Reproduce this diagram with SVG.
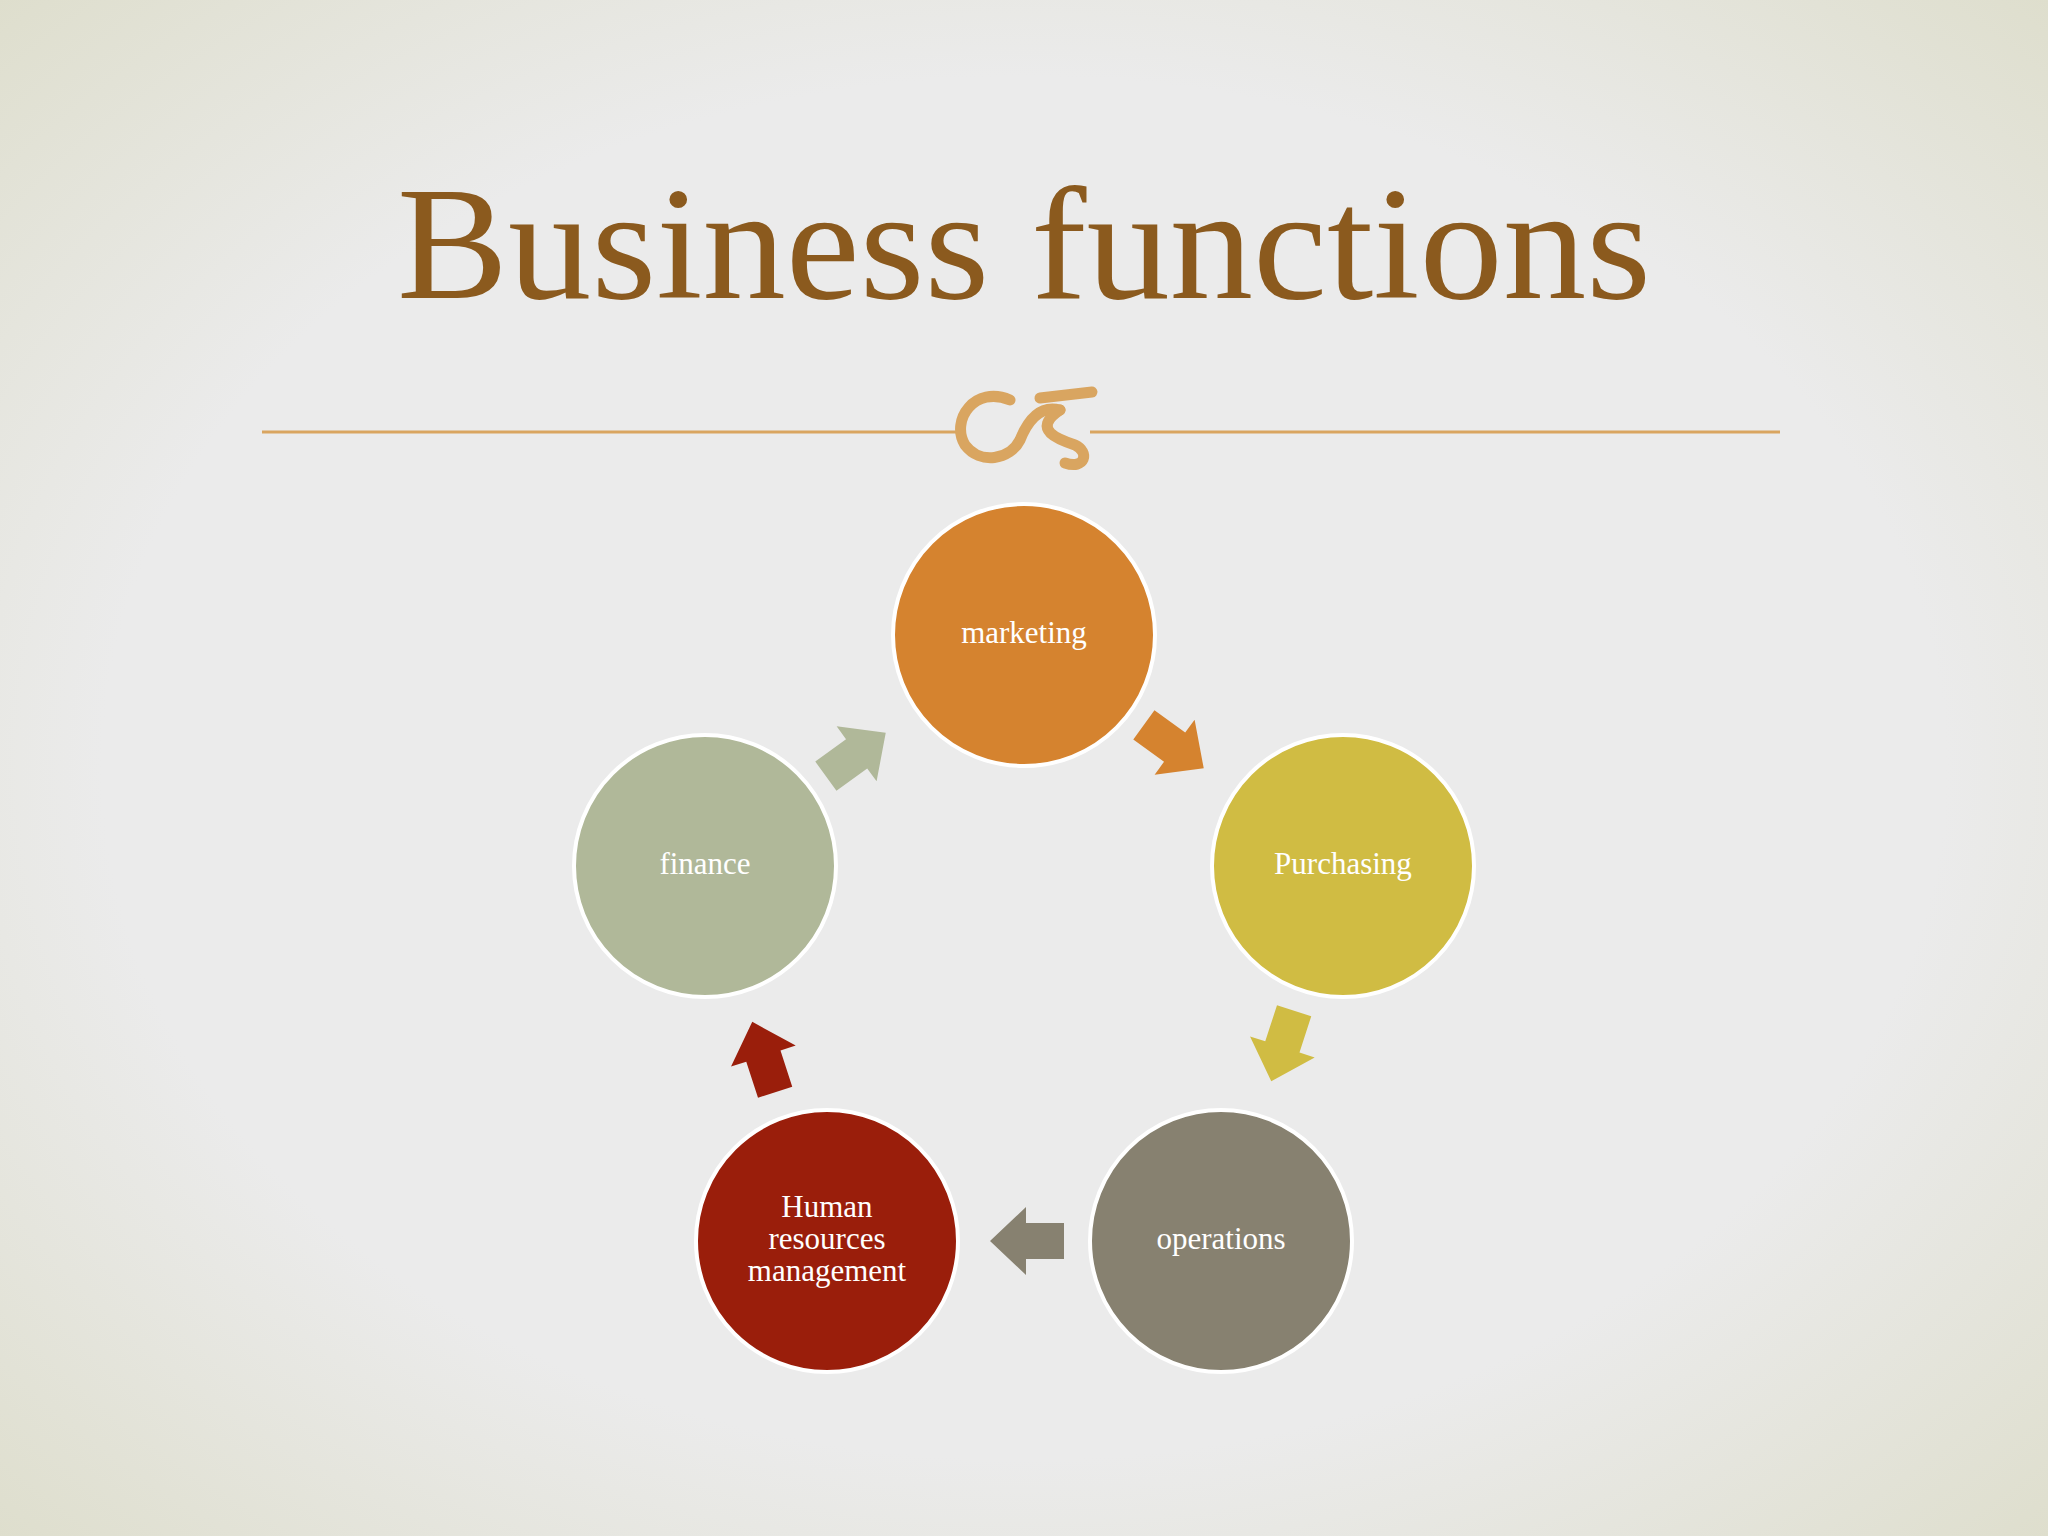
<svg xmlns="http://www.w3.org/2000/svg" width="2048" height="1536" viewBox="0 0 2048 1536">
<defs>
<radialGradient id="bg" cx="50%" cy="50%" r="75%">
<stop offset="0.6" stop-color="#ebebeb"/>
<stop offset="1" stop-color="#dcdcc8"/>
</radialGradient>
<polygon id="arr" points="-36,-18 2,-18 2,-34 38,0 2,34 2,18 -36,18"/>
</defs>
<style>
.node{stroke:#ffffff;stroke-width:4}
.lbl{font-family:"Liberation Serif","DejaVu Serif",serif;font-size:31px;fill:#ffffff;text-anchor:middle}
</style>
<rect width="2048" height="1536" fill="url(#bg)"/>
<text x="1024" y="298" font-family="Liberation Serif, DejaVu Serif, serif" font-size="160" fill="#8B5A1E" text-anchor="middle" textLength="1254" lengthAdjust="spacingAndGlyphs">Business functions</text>
<line x1="262" y1="432" x2="960" y2="432" stroke="#D9A560" stroke-width="3"/>
<line x1="1090" y1="432" x2="1780" y2="432" stroke="#D9A560" stroke-width="3"/>
<g fill="none" stroke="#D9A560" stroke-width="11" stroke-linecap="round">
<path d="M1010,400 C975,385 950,420 965,445 C980,465 1010,460 1020,440 C1028,420 1040,405 1060,410"/>
<path d="M1040,398 L1092,392 M1060,410 C1030,430 1060,440 1075,445 C1090,452 1085,470 1065,463"/>
</g>
<g id="connectors">
<use href="#arr" fill="#D5832F" transform="translate(1173,746) rotate(36)"/>
<use href="#arr" fill="#D0BC43" transform="translate(1283,1045) rotate(108)"/>
<use href="#arr" fill="#878170" transform="translate(1028,1241) rotate(180)"/>
<use href="#arr" fill="#9A1E0B" transform="translate(764,1058) rotate(252)"/>
<use href="#arr" fill="#B0B899" transform="translate(855,755) rotate(-36)"/>
</g>
<g id="marketing"><circle class="node" cx="1024" cy="635" r="131" fill="#D5832F"/><text class="lbl" x="1024" y="643">marketing</text></g>
<g id="purchasing"><circle class="node" cx="1343" cy="866" r="131" fill="#D0BC43"/><text class="lbl" x="1343" y="874">Purchasing</text></g>
<g id="operations"><circle class="node" cx="1221" cy="1241" r="131" fill="#878170"/><text class="lbl" x="1221" y="1249">operations</text></g>
<g id="hr"><circle class="node" cx="827" cy="1241" r="131" fill="#9A1E0B"/><text class="lbl" x="827" y="1217">Human</text><text class="lbl" x="827" y="1249">resources</text><text class="lbl" x="827" y="1281">management</text></g>
<g id="finance"><circle class="node" cx="705" cy="866" r="131" fill="#B0B899"/><text class="lbl" x="705" y="874">finance</text></g>
</svg>
